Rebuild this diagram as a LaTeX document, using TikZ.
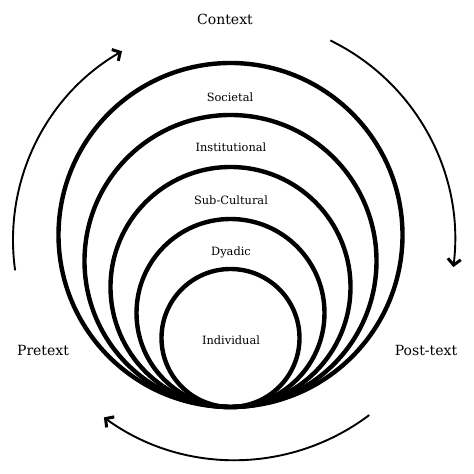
\documentclass[tikz,border=0pt]{standalone}
\usepackage{fontspec}
\setmainfont{DejaVu Serif}
\usetikzlibrary{arrows.meta}
\begin{document}
\begin{tikzpicture}[x=1pt,y=1pt,
  ring/.style={draw=black,line width=4.4pt},
  flow/.style={draw=black,line width=1.9pt,-{Straight Barb[length=6pt,width=13pt,line width=3pt]}},
  outer/.style={font=\fontsize{14}{16}\selectfont},
  inner/.style={font=\fontsize{11.4}{13}\selectfont}]
\useasboundingbox (0,0) rectangle (474,474);
\coordinate (base) at (230.5,67);
\foreach \r in {172,146,120,94,69}{
  \draw[ring] (230.5,67+\r) circle[radius=\r];
}
\node[outer] (context) at (225,455) {Context};
\node[outer] (pretext) at (43,124) {Pretext};
\node[outer] (posttext) at (426,124) {Post-text};
\node[inner] (societal) at (230,377) {Societal};
\node[inner] (institutional) at (231,327) {Institutional};
\node[inner] (subcultural) at (231,274) {Sub-Cultural};
\node[inner] (dyadic) at (231,222) {Dyadic};
\node[inner] (individual) at (231,134) {Individual};
\coordinate (lc) at (231,234);
\coordinate (rc) at (233,234);
\coordinate (bc) at (235,237);
\draw[flow] ([shift={(188:218)}]lc) arc[start angle=188,end angle=120,radius=218];
\draw[flow] ([shift={(64:222)}]rc) arc[start angle=64,end angle=-7,radius=222];
\draw[flow] ([shift={(-53:223)}]bc) arc[start angle=-53,end angle=-126,radius=223];
\end{tikzpicture}
\end{document}
